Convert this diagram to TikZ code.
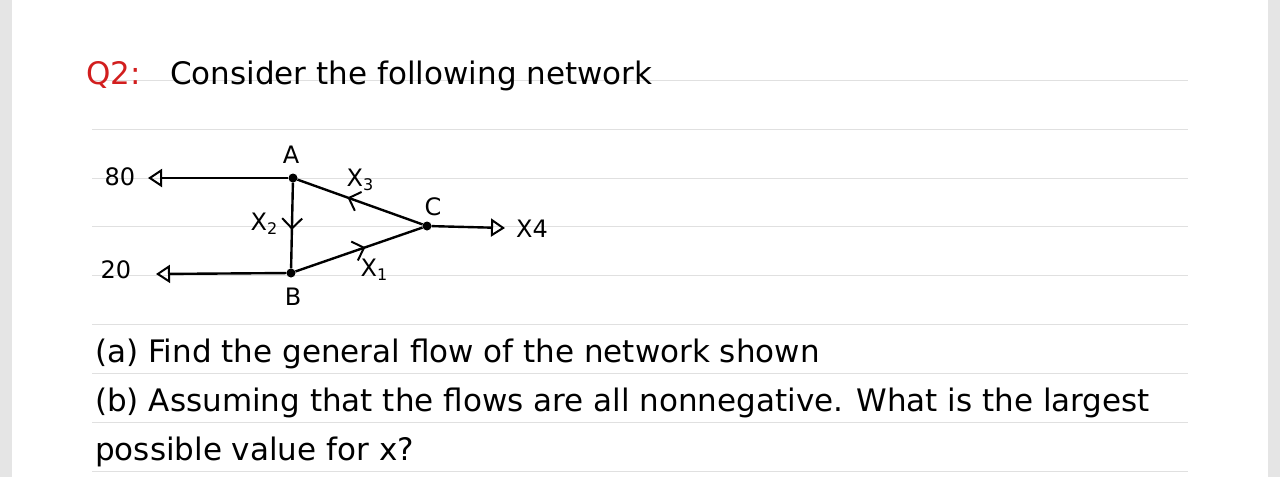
\documentclass[tikz,border=0pt]{standalone}
\usepackage{fontspec}
\setmainfont{DejaVu Sans}
\usetikzlibrary{arrows.meta,decorations.markings}
\newcommand{\mysub}[1]{\raisebox{-4pt}{\fontsize{16}{18}\selectfont #1}}
\begin{document}
\begin{tikzpicture}[x=1pt,y=-1pt,
  rule/.style={draw=black!12,line width=1pt},
  edge/.style={line width=2.4pt},
  midarrow/.style={postaction={decorate,decoration={markings,mark=at position #1 with {\arrow[line width=2pt]{Straight Barb[length=10pt,width=20pt]}}}}},
  opentip/.style={-{Triangle[open,length=14pt,width=18pt,line width=2pt]}},
  lbl/.style={font=\fontsize{24}{26}\selectfont},
  txt/.style={font=\fontsize{31}{34}\selectfont,anchor=base west,inner sep=0pt},
  dot/.style={circle,fill=black,inner sep=0pt,minimum size=9pt}]
\useasboundingbox (0,0) rectangle (1280,477);
\fill[black!10] (0,0) rectangle (12,477);
\fill[black!10] (1268,0) rectangle (1280,477);
\foreach \y in {80,129,178,226,275,324,373,422,471}
  \draw[rule] (92,\y) -- (1188,\y);
\node[txt,text={rgb,255:red,210;green,30;blue,30}] (q) at (86,84) {Q2:};
\node[txt] (t) at (170,84) {Consider the following network};
\node[dot] (A) at (293,178) {};
\node[dot] (B) at (291,273) {};
\node[dot] (C) at (427,226) {};
\coordinate (e80) at (148,178);
\coordinate (e20) at (156,274);
\coordinate (e4) at (505,228);
\draw[edge,opentip] (A) -- (e80);
\draw[edge,opentip] (B) -- (e20);
\draw[edge,opentip] (C) -- (e4);
\draw[edge,midarrow=0.55] (A) -- (B);
\draw[edge,midarrow=0.6] (C) -- (A);
\draw[edge,midarrow=0.55] (B) -- (C);
\node[lbl] (l80) at (120,177) {80};
\node[lbl] (l20) at (116,270) {20};
\node[lbl] (lA) at (291,155) {A};
\node[lbl] (lB) at (293,297) {B};
\node[lbl] (lC) at (433,207) {C};
\node[lbl] (l3) at (360,180) {X\mysub{3}};
\node[lbl] (l2) at (264,224) {X\mysub{2}};
\node[lbl] (l1) at (374,270) {X\mysub{1}};
\node[lbl] (l4) at (532,229) {X4};
\node[txt] (a) at (95,362) {(a) Find the general flow of the network shown};
\node[txt] (b) at (95,411) {(b) Assuming that the flows are all nonnegative. What is the largest};
\node[txt] (c) at (95,460) {possible value for x?};
\end{tikzpicture}
\end{document}
